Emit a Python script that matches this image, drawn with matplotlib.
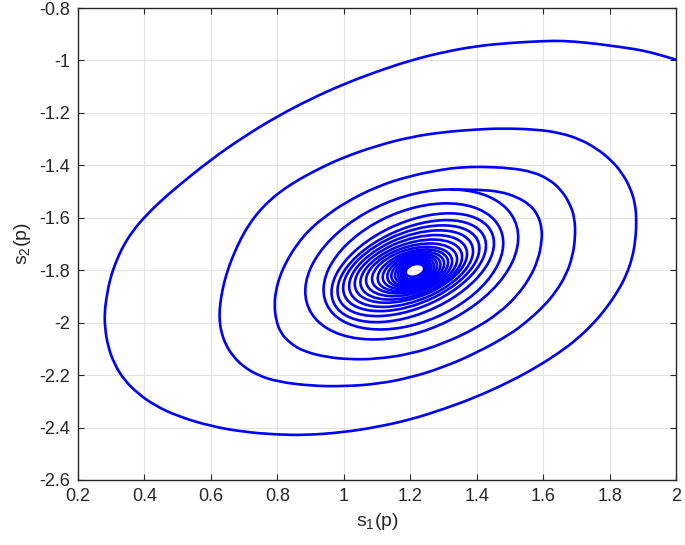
import math
import matplotlib
matplotlib.use("Agg")
import matplotlib.pyplot as plt
from matplotlib.path import Path
from matplotlib.patches import PathPatch, Ellipse

plt.rcParams['font.family'] = ['Liberation Sans', 'DejaVu Sans']
plt.rcParams['mathtext.fontset'] = 'custom'
plt.rcParams['mathtext.rm'] = 'Liberation Sans'
plt.rcParams['mathtext.it'] = 'Liberation Sans'

# ---- data ----
# outer three turns of the trajectory, traced point by point
outer_s1 = [2.0, 1.95, 1.9, 1.85, 1.8, 1.73, 1.66, 1.6, 1.5, 1.4, 1.3, 1.2, 1.1, 1.0, 0.9, 0.8, 0.7, 0.6,
            0.5, 0.45, 0.4, 0.365, 0.337, 0.315, 0.297, 0.286, 0.28, 0.281, 0.29, 0.31, 0.34, 0.38, 0.43,
            0.5, 0.6, 0.7, 0.8, 0.886, 1.0, 1.1, 1.2, 1.3, 1.4, 1.5, 1.58, 1.65, 1.7, 1.75, 1.79, 1.825,
            1.85, 1.868, 1.878, 1.881, 1.877, 1.862, 1.838, 1.805, 1.76, 1.71, 1.65, 1.58, 1.477,
            1.4, 1.3, 1.2, 1.1, 1.0, 0.93, 0.87, 0.82, 0.78, 0.745, 0.715, 0.69, 0.67, 0.653, 0.64,
            0.631, 0.626, 0.626, 0.632, 0.645, 0.665, 0.695, 0.74, 0.8, 0.9, 1.0, 1.1, 1.2, 1.3, 1.4,
            1.5, 1.55, 1.6, 1.64, 1.67, 1.688, 1.697, 1.695, 1.68, 1.655, 1.62, 1.57, 1.5, 1.41,
            1.35, 1.3, 1.2, 1.1, 1.0, 0.95, 0.9, 0.86, 0.83, 0.808, 0.795, 0.791, 0.796, 0.81, 0.84,
            0.88, 0.95, 1.02, 1.096, 1.2, 1.3, 1.4, 1.47, 1.52, 1.56, 1.585, 1.596, 1.596, 1.585, 1.56,
            1.52, 1.47, 1.41, 1.32]
outer_s2 = [-0.997, -0.978, -0.962, -0.952, -0.943, -0.932, -0.925, -0.926, -0.933, -0.945, -0.968, -1.0,
            -1.042, -1.09, -1.147, -1.213, -1.29, -1.378, -1.48, -1.535, -1.597, -1.65, -1.705, -1.765,
            -1.83, -1.9, -1.96, -2.02, -2.09, -2.16, -2.22, -2.27, -2.315, -2.357, -2.395, -2.417,
            -2.427, -2.429, -2.418, -2.398, -2.37, -2.33, -2.283, -2.225, -2.17, -2.113, -2.065, -2.005,
            -1.945, -1.88, -1.82, -1.755, -1.685, -1.61, -1.545, -1.485, -1.43, -1.38, -1.335, -1.3,
            -1.276, -1.263, -1.259,
            -1.263, -1.273, -1.292, -1.325, -1.369, -1.41, -1.45, -1.49, -1.53, -1.575, -1.625, -1.68,
            -1.735, -1.79, -1.845, -1.9, -1.95, -1.995, -2.04, -2.085, -2.125, -2.165, -2.2, -2.225,
            -2.241, -2.243, -2.234, -2.21, -2.17, -2.115, -2.045, -1.997, -1.94, -1.88, -1.815, -1.75,
            -1.675, -1.6, -1.545, -1.495, -1.455, -1.425, -1.41, -1.405,
            -1.408, -1.415, -1.44, -1.48, -1.545, -1.59, -1.64, -1.7, -1.76, -1.82, -1.88, -1.936,
            -1.99, -2.04, -2.08, -2.11, -2.132, -2.14, -2.139, -2.12, -2.08, -2.02, -1.96, -1.9, -1.83,
            -1.76, -1.69, -1.64, -1.59, -1.55, -1.52, -1.5, -1.493, -1.492]

# inner turns: extremes of each turn (left s1, right s1, top s2, bottom s2)
# and the s1 position of the top and bottom of each turn
ring_left = [0.884, 0.939, 0.963, 0.981, 0.998, 1.016, 1.033, 1.050, 1.067, 1.085, 1.102,
             1.117, 1.131, 1.143, 1.154, 1.163, 1.171, 1.177, 1.182, 1.186]
ring_right = [1.525, 1.480, 1.452, 1.428, 1.408, 1.389, 1.371, 1.356, 1.341, 1.326, 1.314,
              1.302, 1.291, 1.281, 1.272, 1.264, 1.257, 1.251, 1.246, 1.242]
ring_top = [-1.492, -1.545, -1.583, -1.609, -1.629, -1.648, -1.666, -1.683, -1.698, -1.711, -1.721,
            -1.730, -1.738, -1.745, -1.752, -1.758, -1.763, -1.768, -1.772, -1.776]
ring_bottom = [-2.064, -2.026, -1.998, -1.975, -1.956, -1.940, -1.924, -1.912, -1.899, -1.888, -1.880,
               -1.872, -1.865, -1.859, -1.853, -1.848, -1.843, -1.839, -1.835, -1.825]
ring_top_s1 = [1.37, 1.34, 1.32, 1.31, 1.30, 1.29, 1.28, 1.27, 1.26, 1.25, 1.248,
               1.243, 1.239, 1.236, 1.233, 1.230, 1.228, 1.226, 1.224, 1.222]
ring_bottom_s1 = [1.14, 1.14, 1.10, 1.10, 1.11, 1.12, 1.13, 1.14, 1.15, 1.16, 1.168,
                  1.176, 1.183, 1.188, 1.193, 1.197, 1.200, 1.202, 1.204, 1.206]

xticks = [0.2, 0.4, 0.6, 0.8, 1.0, 1.2, 1.4, 1.6, 1.8, 2.0]
yticks = [-2.6, -2.4, -2.2, -2.0, -1.8, -1.6, -1.4, -1.2, -1.0, -0.8]
xtick_labels = ['0.2', '0.4', '0.6', '0.8', '1', '1.2', '1.4', '1.6', '1.8', '2']
ytick_labels = ['-2.6', '-2.4', '-2.2', '-2', '-1.8', '-1.6', '-1.4', '-1.2', '-1', '-0.8']

LINE_COLOR = '#0000ff'
LW = 1.9

fig = plt.figure(figsize=(6.85, 5.45), dpi=100)
ax = fig.add_axes([0.1139, 0.1193, 0.873, 0.866])

# outer turns: smooth path through the traced points (quadratic B-spline rendering)
pts = list(zip(outer_s1, outer_s2))
verts = [pts[0]]
codes = [Path.MOVETO]
for i in range(1, len(pts) - 1):
    mid = ((pts[i][0] + pts[i + 1][0]) / 2, (pts[i][1] + pts[i + 1][1]) / 2)
    verts += [pts[i], mid]
    codes += [Path.CURVE3, Path.CURVE3]
verts.append(pts[-1]); codes.append(Path.LINETO)
ax.add_patch(PathPatch(Path(verts, codes), facecolor='none', edgecolor=LINE_COLOR, lw=LW,
                       capstyle='butt', joinstyle='round'))

# inner turns: tilted ellipses matching the read extremes
for L, R, T, B, tx, bx in zip(ring_left, ring_right, ring_top, ring_bottom,
                              ring_top_s1, ring_bottom_s1):
    cx, cy = (L + R) / 2, (T + B) / 2
    W, H = (R - L) / 2, (T - B) / 2
    p = (tx - bx) / 2 * H
    d = W * W - H * H
    two_theta = math.atan2(2 * p, d)
    root = math.hypot(d, 2 * p)
    a = math.sqrt((W * W + H * H + root) / 2)
    b = math.sqrt(max((W * W + H * H - root) / 2, 1e-9))
    ax.add_patch(Ellipse((cx, cy), 2 * a, 2 * b, angle=math.degrees(two_theta / 2),
                         facecolor='none', edgecolor=LINE_COLOR, lw=LW))

ax.set_xlim(0.2, 2.0)
ax.set_ylim(-2.6, -0.8)
ax.set_xticks(xticks)
ax.set_xticklabels(xtick_labels)
ax.set_yticks(yticks)
ax.set_yticklabels(ytick_labels)
ax.grid(True, color='#e3e3e3', lw=0.8)
ax.set_axisbelow(True)
for s in ax.spines.values():
    s.set_color('#262626'); s.set_linewidth(1.0)
ax.tick_params(direction='in', length=4, width=0.8, colors='#262626', labelsize=13,
               top=True, right=True, pad=6)
ax.set_xlabel(r'$\mathrm{s_1(p)}$', fontsize=14, color='#262626', labelpad=4)
ax.set_ylabel(r'$\mathrm{s_2(p)}$', fontsize=14, color='#262626', labelpad=4)

fig.savefig('out.png', dpi=100)
